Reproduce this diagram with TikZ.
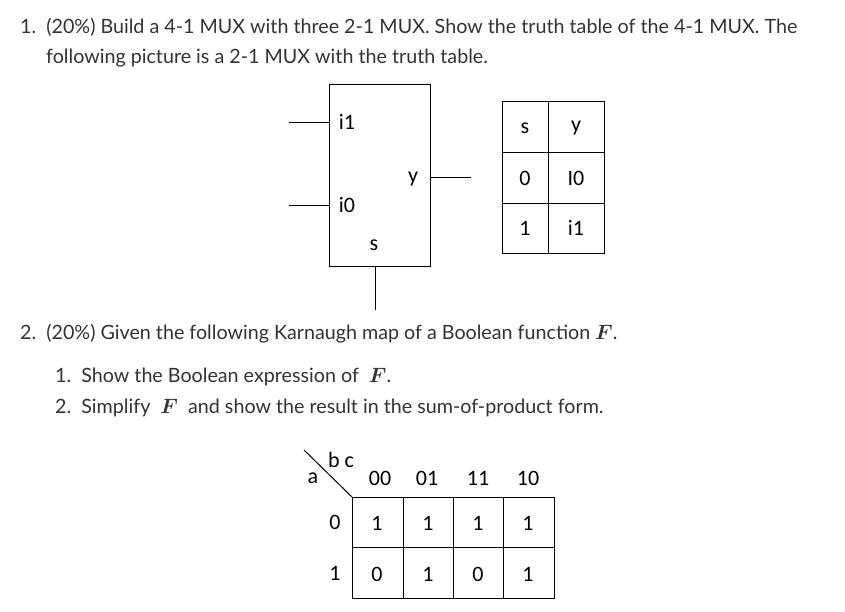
\documentclass[tikz,border=0pt]{standalone}
\usepackage{fontspec}
\usepackage{bm}
\setmainfont{Lato}
\newfontfamily\calib{Carlito}
\definecolor{txt}{HTML}{333333}
\begin{document}
\begin{tikzpicture}[x=1pt,y=-1pt,
  para/.style={anchor=west,inner sep=0,text=txt,font=\fontsize{19.7}{22}\selectfont},
  lbl/.style={inner sep=0,font=\calib\fontsize{22}{24}\selectfont},
  wire/.style={line width=1pt}]
\useasboundingbox[fill=white] (0,0) rectangle (845,611);
\node[para] (t1) at (20,27) {1.\ \ (20\%) Build a 4-1 MUX with three 2-1 MUX. Show the truth table of the 4-1 MUX. The};
\node[para] (t2) at (46,58) {following picture is a 2-1 MUX with the truth table.};
\node[para] (t3) at (20,334) {2.\ \ (20\%) Given the following Karnaugh map of a Boolean function $\bm{F}$.};
\node[para] (t4) at (55,377) {1.\ \ Show the Boolean expression of\ \ $\bm{F}$.};
\node[para] (t5) at (55,408) {2.\ \ Simplify\ \ $\bm{F}$\ \ and show the result in the sum-of-product form.};
% MUX
\draw[wire] (329,84) rectangle (430,266);
\coordinate (a1) at (289,122); \coordinate (b1) at (329,122);
\coordinate (a0) at (289,205); \coordinate (b0) at (329,205);
\coordinate (ya) at (430,177); \coordinate (yb) at (471,177);
\coordinate (sa) at (375,266); \coordinate (sb) at (375,310);
\draw[wire] (a1)--(b1); \draw[wire] (a0)--(b0); \draw[wire] (ya)--(yb); \draw[wire] (sa)--(sb);
\node[lbl] (li1) at (347,122) {i1};
\node[lbl] (li0) at (347,205) {i0};
\node[lbl] (ly) at (413,179) {y};
\node[lbl] (ls) at (374,245) {s};
% truth table
\draw[wire] (502,101) rectangle (604,253);
\draw[wire] (548,101)--(548,253);
\draw[wire] (502,152)--(604,152); \draw[wire] (502,203)--(604,203);
\node[lbl] (h1) at (525,128) {s}; \node[lbl] (h2) at (576,128) {y};
\node[lbl] (r1) at (525,178) {0}; \node[lbl] (r2) at (576,178) {I0};
\node[lbl] (r3) at (525,228) {1}; \node[lbl] (r4) at (576,228) {i1};
% K-map
\draw[wire] (352,497) rectangle (554,598);
\foreach \x in {403,453,503} \draw[wire] (\x,497)--(\x,598);
\draw[wire] (352,547)--(554,547);
\draw[wire] (304,450)--(352,497);
\node[lbl] (ka) at (313,478) {a};
\node[lbl] (kbc) at (341,460) {b c};
\foreach \x/\t in {380/00,427/01,478/11,528/10} \node[lbl] at (\x,478) {\t};
\node[lbl] (k0) at (335,522) {0}; \node[lbl] (k1) at (335,573) {1};
\foreach \x/\t in {377/1,428/1,478/1,528/1} \node[lbl] at (\x,523) {\t};
\foreach \x/\t in {377/0,428/1,478/0,528/1} \node[lbl] at (\x,574) {\t};
\end{tikzpicture}
\end{document}
